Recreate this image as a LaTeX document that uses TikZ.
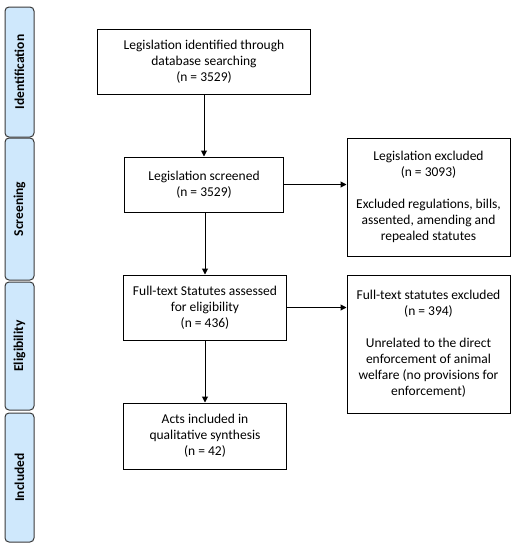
\documentclass[tikz,border=0pt]{standalone}
\usepackage{fontspec}
\setmainfont{Carlito}
\usepackage{tikz}
\usetikzlibrary{positioning,arrows.meta,calc}
\definecolor{prPhase}{RGB}{207,232,252}
\definecolor{prLine}{HTML}{3A3A3A}
\tikzset{
    prBox/.style={
        rectangle,
        draw=black,
        line width=1pt,
        align=center,
        font=\fontsize{13.5}{16}\selectfont,
        inner sep=3pt
    },
    prPhaseBar/.style={
        rectangle,
        draw=prLine,
        fill=prPhase,
        line width=1pt,
        rounded corners=4pt,
        rotate=90,
        minimum height=29pt,
        font=\fontsize{13.5}{15}\selectfont\bfseries
    },
    % Arrows
    prArrow/.style={-{Triangle[length=6pt,width=6pt]}, line width=1pt, draw=black}
}
\begin{document}
\begin{tikzpicture}[x=1pt,y=-1pt]
    \useasboundingbox (0,0) rectangle (516,550);

    % phases
    \node[prPhaseBar, minimum width=130pt] (phIdent) at (19.5,72) {Identification};
    \node[prPhaseBar, minimum width=142pt] (phScreen) at (19.5,209) {Screening};
    \node[prPhaseBar, minimum width=128pt] (phElig) at (19.5,346) {Eligibility};
    \node[prPhaseBar, minimum width=129pt] (phIncl) at (19.5,477.5) {Included};

    % main column
    \node[prBox, minimum width=213pt, minimum height=65pt] (ident) at (204,61.5) {Legislation identified through\\database searching\\(n = 3529)};
    \node[prBox, minimum width=159pt, minimum height=55pt] (screen) at (204,184.5) {Legislation screened\\(n = 3529)};
    \node[prBox, minimum width=163pt, minimum height=65pt] (full) at (205,307.5) {Full-text Statutes assessed\\for eligibility\\(n = 436)};
    \node[prBox, minimum width=163pt, minimum height=66pt] (incl) at (205,436) {Acts included in\\qualitative synthesis\\(n = 42)};

    % exclusions
    \node[prBox, minimum width=163pt, minimum height=118pt] (exclLeg) at (428.5,197) {Legislation excluded\\(n = 3093)\\[16pt]Excluded regulations, bills,\\assented, amending and\\repealed statutes};
    \node[prBox, minimum width=163pt, minimum height=138pt] (exclFull) at (428.5,344) {Full-text statutes excluded\\(n = 394)\\[16pt]Unrelated to the direct\\enforcement of animal\\welfare (no provisions for\\enforcement)};

    \draw[prArrow] (ident.south -| screen.north) -- (screen.north);
    \draw[prArrow] (screen.south -| full.north) -- (full.north);
    \draw[prArrow] (full) -- (incl);
    \draw[prArrow] (screen.east) -- (screen.east -| exclLeg.west);
    \draw[prArrow] (full.east) -- (full.east -| exclFull.west);
\end{tikzpicture}
\end{document}
